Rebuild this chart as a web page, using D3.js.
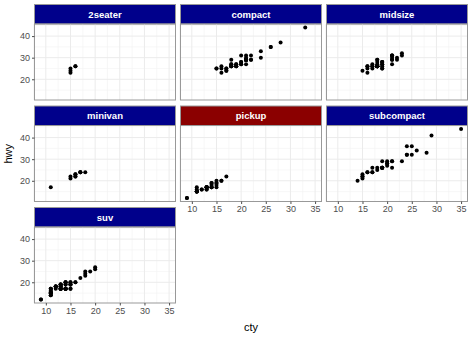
<!DOCTYPE html>
<html>
<head>
<meta charset="utf-8">
<script src="https://cdn.jsdelivr.net/npm/d3@7"></script>
<style>
  html, body { margin: 0; padding: 0; background: #fff; }
  svg { display: block; font-family: "Liberation Sans", Arial, sans-serif; }
</style>
</head>
<body>
<svg id="chart" width="474" height="338"></svg>
<script>
// Facet order and strip colours
const classes = ["2seater", "compact", "midsize", "minivan", "pickup", "subcompact", "suv"];
const highlighted = "pickup";

// City / highway fuel economy pairs [cty, hwy] for each vehicle class
const twoSeater = [[16,26],[15,23],[16,26],[15,25],[15,24]];
const compact = [
  [18,29],[21,29],[20,31],[21,30],[16,26],[18,26],[18,27],
  [18,26],[16,25],[20,28],[19,27],[15,25],[17,25],[17,25],[15,25],
  [21,29],[19,27],
  [20,27],[20,27],[19,26],[20,28],
  [21,27],[21,29],[21,31],[22,31],[18,26],[18,26],[18,27],
  [24,30],[24,33],[26,35],[28,37],[26,35],
  [21,29],[19,26],[21,29],[22,29],[17,24],
  [33,44],[21,29],[19,26],[22,29],[21,29],[21,29],[21,29],[16,23],[17,24]
];
const midsize = [
  [15,24],[17,25],[16,23],
  [19,27],[22,30],[18,26],[18,29],[17,26],
  [18,26],[18,27],[21,30],[21,31],[18,26],[18,26],[19,28],
  [23,31],[23,32],[19,27],[19,26],
  [18,26],[19,25],[19,25],
  [18,26],[16,26],[17,27],[18,28],[16,25],
  [21,29],[21,27],[21,31],[21,31],[18,26],[18,26],[19,28],
  [21,29],[18,29],[19,28],[22,29],[16,26],[18,26],[17,26]
];
const minivan = [[18,24],[17,24],[16,22],[16,22],[17,24],[17,24],[11,17],[15,22],[15,21],[16,23],[16,23]];
const pickup = [
  [15,19],[14,18],[13,17],[14,17],[14,19],[14,19],[9,12],[11,17],[11,15],
  [12,16],[9,12],[13,17],[13,17],[11,15],[11,16],[13,17],[11,15],[12,16],[11,15],
  [14,17],[14,17],[13,16],[13,16],[13,17],[11,15],[13,17],
  [15,20],[16,20],[17,22],[15,17],[15,19],[15,18],[16,20]
];
const subcompact = [
  [18,26],[18,25],[17,26],[16,24],[15,21],[15,22],[15,23],[15,22],[14,20],
  [28,33],[24,32],[25,32],[23,29],[24,32],[26,34],[25,36],[24,36],[21,29],
  [19,26],[19,29],[20,28],[20,27],[17,24],[16,24],[17,24],
  [21,26],[19,26],[19,26],[19,26],
  [35,44],[29,41],[21,29],[19,26],[20,28],[20,29]
];
const suv = [
  [14,20],[11,15],[14,20],[13,17],[12,17],
  [14,19],[11,14],[11,15],[14,17],
  [13,17],[13,17],[9,12],[13,17],[11,16],[13,18],[11,15],
  [11,17],[11,17],[12,18],
  [14,17],[15,19],[14,17],[13,19],[13,19],[13,17],
  [17,22],[15,19],[15,20],[14,17],[9,12],[14,19],[13,18],[11,14],
  [11,15],[12,18],[12,18],[11,15],
  [11,17],[11,16],[12,18],
  [14,17],[13,19],[13,19],[13,17],
  [14,17],[15,17],[14,20],[12,18],
  [18,25],[18,24],[20,27],[19,25],[20,26],[18,23],
  [15,20],[16,20],[15,19],[15,17],[16,20],[14,17],
  [11,15],[13,18]
];

const xTicks = [10, 15, 20, 25, 30, 35];
const yTicks = [20, 30, 40];

const pointsByClass = new Map([
  ["2seater", twoSeater], ["compact", compact], ["midsize", midsize],
  ["minivan", minivan], ["pickup", pickup], ["subcompact", subcompact], ["suv", suv]
]);

// Facet grid geometry
const ncol = 3;
const gridLeft = 34.5, gridTop = 4.5;
const panelW = 141, panelH = 76, stripH = 19.5;
const gapX = 5, gapY = 6;

const all = classes.flatMap(c => pointsByClass.get(c));
const xExt = d3.extent(all, d => d[0]);
const yExt = d3.extent(all, d => d[1]);
const xPad = (xExt[1] - xExt[0]) * 0.05, yPad = (yExt[1] - yExt[0]) * 0.05;

const x = d3.scaleLinear().domain([xExt[0] - xPad, xExt[1] + xPad]).range([0, panelW]);
const y = d3.scaleLinear().domain([yExt[0] - yPad, yExt[1] + yPad]).range([panelH, 0]);

const svg = d3.select("#chart");
const nrow = Math.ceil(classes.length / ncol);

classes.forEach((cls, i) => {
  const col = i % ncol, row = Math.floor(i / ncol);
  const px = gridLeft + col * (panelW + gapX);
  const py = gridTop + row * (stripH + panelH + gapY);
  const g = svg.append("g").attr("transform", `translate(${px},${py})`);

  // strip
  g.append("rect")
    .attr("width", panelW).attr("height", stripH)
    .attr("fill", cls === highlighted ? "#8B0000" : "#00008B")
    .attr("stroke", "#999").attr("stroke-width", 1);
  g.append("text")
    .attr("x", panelW / 2).attr("y", stripH / 2)
    .attr("dy", "0.36em").attr("text-anchor", "middle")
    .attr("fill", "#fff").attr("font-weight", "bold").attr("font-size", 9.5)
    .text(cls);

  const p = g.append("g").attr("transform", `translate(0,${stripH})`);

  // minor grid
  const xMinor = [7.5, 12.5, 17.5, 22.5, 27.5, 32.5];
  const yMinor = [15, 25, 35, 45];
  p.selectAll(".xm").data(xMinor).join("line").attr("class", "xm")
    .attr("x1", d => x(d)).attr("x2", d => x(d)).attr("y1", 0).attr("y2", panelH)
    .attr("stroke", "#f2f2f2").attr("stroke-width", 0.6);
  p.selectAll(".ym").data(yMinor).join("line").attr("class", "ym")
    .attr("y1", d => y(d)).attr("y2", d => y(d)).attr("x1", 0).attr("x2", panelW)
    .attr("stroke", "#f2f2f2").attr("stroke-width", 0.6);
  // major grid
  p.selectAll(".xg").data(xTicks).join("line").attr("class", "xg")
    .attr("x1", d => x(d)).attr("x2", d => x(d)).attr("y1", 0).attr("y2", panelH)
    .attr("stroke", "#ebebeb").attr("stroke-width", 1);
  p.selectAll(".yg").data(yTicks).join("line").attr("class", "yg")
    .attr("y1", d => y(d)).attr("y2", d => y(d)).attr("x1", 0).attr("x2", panelW)
    .attr("stroke", "#ebebeb").attr("stroke-width", 1);

  // points
  p.selectAll("circle").data(pointsByClass.get(cls)).join("circle")
    .attr("cx", d => x(d[0])).attr("cy", d => y(d[1]))
    .attr("r", 2).attr("fill", "#000");

  // panel border
  p.append("rect").attr("width", panelW).attr("height", panelH)
    .attr("fill", "none").attr("stroke", "#999").attr("stroke-width", 1);

  // y axis on first column
  if (col === 0) {
    const ya = p.append("g").call(d3.axisLeft(y).tickValues(yTicks).tickSize(2.5).tickPadding(2));
    ya.select(".domain").remove();
    ya.selectAll("line").attr("stroke", "#4d4d4d");
    ya.selectAll("text").attr("fill", "#4d4d4d").attr("font-size", 9).attr("font-family", null);
  }
  // x axis on the lowest panel of each column
  const lastRowForCol = Math.floor((classes.length - 1 - col) / ncol);
  if (row === lastRowForCol) {
    const xa = p.append("g").attr("transform", `translate(0,${panelH})`)
      .call(d3.axisBottom(x).tickValues(xTicks).tickSize(2.5).tickPadding(2));
    xa.select(".domain").remove();
    xa.selectAll("line").attr("stroke", "#4d4d4d");
    xa.selectAll("text").attr("fill", "#4d4d4d").attr("font-size", 9).attr("font-family", null);
  }
});

// axis titles
const gridW = ncol * panelW + (ncol - 1) * gapX;
const gridH = nrow * (stripH + panelH) + (nrow - 1) * gapY;
svg.append("text")
  .attr("x", gridLeft + gridW / 2).attr("y", 331)
  .attr("text-anchor", "middle").attr("font-size", 11).attr("fill", "#000")
  .text("cty");
svg.append("text")
  .attr("transform", `translate(12,${gridTop + gridH / 2}) rotate(-90)`)
  .attr("text-anchor", "middle").attr("font-size", 11).attr("fill", "#000")
  .text("hwy");
</script>
</body>
</html>
